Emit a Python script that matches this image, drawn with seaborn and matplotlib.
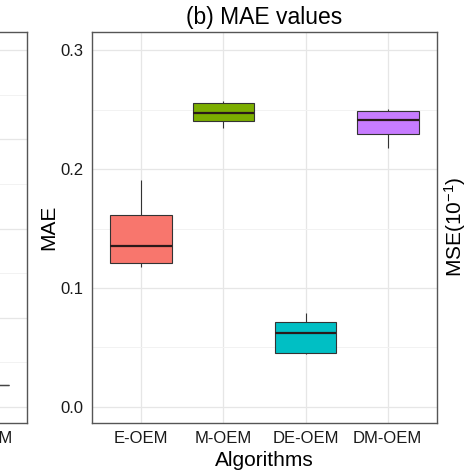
import matplotlib
matplotlib.use("Agg")
import matplotlib.pyplot as plt
import seaborn as sns
import pandas as pd
import numpy as np
from matplotlib.ticker import MultipleLocator

# ---- data ----
categories = ["E-OEM", "M-OEM", "DE-OEM", "DM-OEM"]
e_oem = [0.1174, 0.1207, 0.1354, 0.1615, 0.1904]
m_oem = [0.2348, 0.2404, 0.2471, 0.2555, 0.2572]
de_oem = [0.0444, 0.0452, 0.0618, 0.0716, 0.0786]
dm_oem = [0.2176, 0.2291, 0.2415, 0.2491, 0.2508]
palette = ["#F8766D", "#7CAE00", "#00BFC4", "#C77CFF"]
y_ticks = [0.0, 0.1, 0.2, 0.3]
title = "(b) MAE values"
x_label = "Algorithms"
y_label = "MAE"
right_label = r"$\mathregular{MSE(10^{-1})}$"
# partially visible neighbour panel (only its DM-OEM box edge shows)
left_dm = [0.247, 0.247, 0.247, 0.247, 0.247]

sns.set_style("white")
plt.rcParams["font.family"] = ["Liberation Sans", "DejaVu Sans"]
plt.rcParams["mathtext.fontset"] = "custom"
plt.rcParams["mathtext.rm"] = "Liberation Sans"
plt.rcParams["text.color"] = "black"
plt.rcParams["axes.labelcolor"] = "black"

df = pd.DataFrame({
    "alg": np.repeat(categories, 5),
    "val": e_oem + m_oem + de_oem + dm_oem,
})
df_left = pd.DataFrame({"alg": ["DM-OEM"] * 5, "val": left_dm})

fig = plt.figure(figsize=(4.74, 4.74), dpi=100)
W = H = 474.0
bottom = (H - 423) / H
height = (423 - 32) / H

edge = "#333333"
border = "#555555"
grid_major = "#E6E6E6"
grid_minor = "#F2F2F2"


def style_axes(ax):
    for s in ax.spines.values():
        s.set_color(border)
        s.set_linewidth(1.0)
    ax.grid(True, which="major", color=grid_major, linewidth=0.9)
    ax.grid(True, which="minor", axis="y", color=grid_minor, linewidth=0.7)
    ax.set_axisbelow(True)
    ax.tick_params(axis="both", which="major", direction="out", length=4,
                   width=0.9, color=border, labelsize=12, labelcolor="#1a1a1a", pad=2)
    ax.tick_params(axis="y", which="minor", length=0)


box_kw = dict(
    width=0.75, linecolor=edge, linewidth=0.8, showcaps=False, fliersize=0,
    saturation=1,
)

# left partial panel
axl = fig.add_axes([-317 / W, bottom, 344 / W, height])
sns.boxplot(data=df_left, x="alg", y="val", order=categories, color="#BFE3F2",
            ax=axl, medianprops=dict(color="#444444", linewidth=1.0), **box_kw)
axl.set_xlim(-0.6, 3.6)
axl.set_ylim(-16 / 89, 4 + 18 / 89)
axl.yaxis.set_major_locator(MultipleLocator(1))
axl.yaxis.set_minor_locator(MultipleLocator(0.5))
style_axes(axl)
axl.set_xticks([3])
axl.set_xticklabels(["DM-OEM"])
axl.tick_params(axis="y", labelleft=False, length=0)
axl.set_xlabel("")
axl.set_ylabel("")

# main panel
ax = fig.add_axes([92 / W, bottom, 345 / W, height])
sns.boxplot(data=df, x="alg", y="val", hue="alg", order=categories,
            hue_order=categories, palette=palette, legend=False, ax=ax,
            medianprops=dict(color="#2a1a1a", linewidth=1.6), **box_kw)
ax.set_xlim(-0.6, 3.6)
ax.set_ylim(-16 / 1187, 0.3 + 18 / 1187)
ax.set_yticks(y_ticks)
ax.set_yticklabels([f"{t:.1f}" for t in y_ticks])
ax.yaxis.set_minor_locator(MultipleLocator(0.05))
style_axes(ax)
ax.set_title(title, fontsize=16.5, pad=6)
ax.set_xlabel(x_label, fontsize=15, labelpad=3)
ax.set_ylabel(y_label, fontsize=15, labelpad=2)

# label of the neighbour panel on the right
fig.text(455 / W, (H - 227) / H, right_label, rotation=90, fontsize=15,
         ha="center", va="center")

fig.savefig("out.png", dpi=100)
